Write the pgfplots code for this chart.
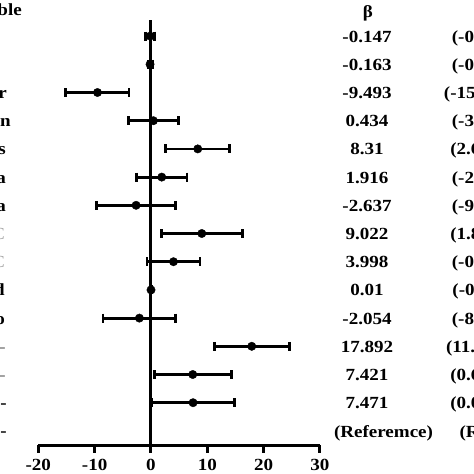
\documentclass[border=0pt]{standalone}
\usepackage{pgfplots}
\pgfplotsset{compat=1.18}
\usepackage{pgfplotstable}
\usepackage{fontspec}
\setmainfont{Liberation Serif}[FakeStretch=1.12]

\pgfplotstableread{
row beta lo hi
1 -0.147 -0.912 0.618
2 -0.163 -0.532 0.206
3 -9.493 -15.104 -3.882
4 0.434 -3.957 4.825
5 8.31 2.634 13.986
6 1.916 -2.578 6.410
7 -2.637 -9.612 4.338
8 9.022 1.826 16.218
9 3.998 -0.694 8.690
10 0.01 -0.096 0.116
11 -2.054 -8.512 4.404
12 17.892 11.256 24.528
13 7.421 0.613 14.229
14 7.471 0.048 14.894
}\forestdata

\begin{document}
\begin{tikzpicture}
\path[use as bounding box] (0pt,0pt) rectangle (474pt,-474pt);
\clip (0pt,0pt) rectangle (474pt,-474pt);
\begin{axis}[
  at={(38.3pt,-445pt)}, anchor=south west,
  scale only axis, x=5.633pt, y=28.2pt,
  xmin=-20, xmax=30, ymin=-15.5, ymax=-0.43,
  axis x line=bottom, axis y line=none,
  x axis line style={-, line width=3pt},
  xtick={-20,-10,0,10,20,30}, ytick=\empty,
  tick align=outside, major tick length=7.5pt,
  tick style={black, line width=3pt},
  xticklabel style={font=\fontsize{17}{20}\selectfont\bfseries, yshift=-3pt},
  /pgf/number format/assume math mode=true,
  clip=false,
  unbounded coords=jump,
]
\addplot[black, line width=3pt, mark=none] coordinates {(0,-0.43) (0,-15.5)};
% confidence intervals (lower, upper) with end caps
\addplot[black, line width=2.8pt, mark=|, mark size=4.5pt, mark options={line width=2.8pt, solid}]
  coordinates {
  (-0.912,-1) (0.618,-1) (nan,nan)
  (-0.532,-2) (0.206,-2) (nan,nan)
  (-15.104,-3) (-3.882,-3) (nan,nan)
  (-3.957,-4) (4.825,-4) (nan,nan)
  (2.634,-5) (13.986,-5) (nan,nan)
  (-2.578,-6) (6.410,-6) (nan,nan)
  (-9.612,-7) (4.338,-7) (nan,nan)
  (1.826,-8) (16.218,-8) (nan,nan)
  (-0.694,-9) (8.690,-9) (nan,nan)
  (-0.096,-10) (0.116,-10) (nan,nan)
  (-8.512,-11) (4.404,-11) (nan,nan)
  (11.256,-12) (24.528,-12) (nan,nan)
  (0.613,-13) (14.229,-13) (nan,nan)
  (0.048,-14) (14.894,-14)
  };
\addplot[black, only marks, mark=*, mark size=4.2pt]
  table[x=beta, y expr=-\thisrow{row}] {\forestdata};
\end{axis}
\begin{scope}[x=1pt, y=-1pt, font=\fontsize{17}{20}\selectfont\bfseries]
\node[anchor=base east, inner sep=0pt] at (22,15.5) {Variable};
\node[anchor=base, inner sep=0pt] at (368,17) {β};
\node[anchor=base, inner sep=0pt] at (510,17) {95\% CI};
\node[anchor=base east, inner sep=0pt] at (-6,42.0) {Age};
\node[anchor=base east, inner sep=0pt] at (-6,70.2) {BMI};
\node[anchor=base east, inner sep=0pt] at (7,98.4) {Smoker};
\node[anchor=base east, inner sep=0pt] at (11,126.6) {Hypertension};
\node[anchor=base east, inner sep=0pt] at (6,154.8) {Diabetes};
\node[anchor=base east, inner sep=0pt] at (6,183.0) {Anemia};
\node[anchor=base east, inner sep=0pt] at (6,211.2) {Hyperlipidemia};
\node[anchor=base east, inner sep=0pt, text=gray!70, font=\fontsize{17}{20}\selectfont\mdseries] at (5,239.4) {Temperature ≥ 38 °C};
\node[anchor=base east, inner sep=0pt, text=gray!70, font=\fontsize{17}{20}\selectfont\mdseries] at (5,267.6) {Temperature 37–38 °C};
\node[anchor=base east, inner sep=0pt] at (5,295.8) {Operated};
\node[anchor=base east, inner sep=0pt] at (5,324.0) {Alcohol: No};
\node[anchor=base east, inner sep=0pt, text=gray] at (6,352.2) {Stage IV -};
\node[anchor=base east, inner sep=0pt, text=gray] at (6,380.4) {Stage III -};
\node[anchor=base east, inner sep=0pt] at (7,408.6) {Stage II -};
\node[anchor=base east, inner sep=0pt] at (7,436.8) {Stage I -};
\foreach \yy/\b/\ci in {42.0/-0.147/{(-0.912, 0.618)}, 70.2/-0.163/{(-0.532, 0.206)},
  98.4/-9.493/{(-15.104, -3.882)}, 126.6/0.434/{(-3.957, 4.825)},
  154.8/8.31/{(2.634, 13.986)}, 183.0/1.916/{(-2.578, 6.410)},
  211.2/-2.637/{(-9.612, 4.338)}, 239.4/9.022/{(1.826, 16.218)},
  267.6/3.998/{(-0.694, 8.690)}, 295.8/0.01/{(-0.096, 0.116)},
  324.0/-2.054/{(-8.512, 4.404)}, 352.2/17.892/{(11.256, 24.528)},
  380.4/7.421/{(0.613, 14.229)}, 408.6/7.471/{(0.048, 14.894)}}{
  \node[anchor=base, inner sep=0pt] at (367,\yy) {\b};
  \node[anchor=base, inner sep=0pt] at (509,\yy) {\ci};
}
\node[anchor=base, inner sep=0pt] at (383.5,437) {(Referemce)};
\node[anchor=base, inner sep=0pt] at (509,437) {(Referemce)};
\end{scope}
\end{tikzpicture}
\end{document}
